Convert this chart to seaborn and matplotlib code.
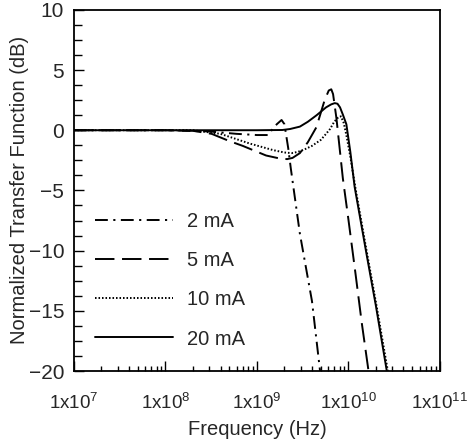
import numpy as np
import pandas as pd
import seaborn as sns
import matplotlib.pyplot as plt
from matplotlib.ticker import MultipleLocator, LogLocator, FixedLocator, NullFormatter

sns.set_style("ticks")
plt.rcParams["font.family"] = ["Liberation Sans", "DejaVu Sans"]
plt.rcParams["mathtext.default"] = "regular"
plt.rcParams["axes.unicode_minus"] = True

# =========================
# DATA
# =========================

freq_2ma = [1e7, 1e8, 3e8, 6e8, 1.0e9, 1.32e9, 1.45e9, 1.65e9, 1.86e9, 2.0e9, 2.2e9,
            2.35e9, 2.95e9, 4.0e9, 4.9e9]
db_2ma = [0, 0, -0.1, -0.3, -0.4, -0.4, 0.0, 0.5, 0.85, 0.5, -1.5,
          -3.2, -8.6, -14.2, -20]

freq_5ma = [1e7, 1e8, 2e8, 3.2e8, 5e8, 7e8, 1.26e9, 1.78e9, 2.14e9, 2.45e9, 2.95e9,
            3.6e9, 4.47e9, 5.5e9, 6.1e9, 6.5e9, 6.8e9, 7.4e9, 8.7e9, 1.0e10, 1.2e10,
            1.4e10, 1.66e10]
db_5ma = [0, 0, -0.05, -0.3, -0.9, -1.3, -2.1, -2.35, -2.4, -2.3, -1.9,
          -1.0, 0.25, 2.5, 3.3, 3.4, 3.0, 1.0, -4.0, -7.4, -12.0,
          -16.0, -20]

freq_10ma = [1e7, 1e8, 2e8, 4e8, 8.3e8, 1.5e9, 2.0e9, 2.4e9, 2.8e9, 3.3e9, 4.0e9,
             5.0e9, 5.7e9, 6.3e9, 7.0e9, 7.8e9, 8.3e9, 8.9e9, 9.5e9, 1.05e10, 1.2e10,
             1.58e10, 2.0e10, 2.7e10]
db_10ma = [0, 0, 0, -0.3, -1.1, -1.65, -1.85, -1.9, -1.8, -1.6, -1.3,
           -0.8, -0.3, 0.1, 0.7, 1.1, 1.15, 0.6, -0.4, -2.2, -4.9,
           -10.0, -14.3, -20]

freq_20ma = [1e7, 1e9, 1.9e9, 2.3e9, 2.95e9, 3.6e9, 4.5e9, 5.7e9, 6.5e9, 7.1e9, 7.6e9,
             8.1e9, 8.7e9, 9.5e9, 1.05e10, 1.17e10, 1.58e10, 2.0e10, 2.63e10]
db_20ma = [0, 0, 0.02, 0.1, 0.3, 0.7, 1.25, 1.9, 2.15, 2.25, 2.2,
           1.9, 1.3, 0.5, -1.8, -4.7, -10.3, -14.6, -20]

labels = ["2 mA", "5 mA", "10 mA", "20 mA"]
x_ticks = [1e7, 1e8, 1e9, 1e10, 1e11]
x_tick_labels = ["1x10$^{7}$", "1x10$^{8}$", "1x10$^{9}$", "1x10$^{10}$", "1x10$^{11}$"]
y_ticks = [-20, -15, -10, -5, 0, 5, 10]

df = pd.concat([
    pd.DataFrame({"freq": freq_2ma, "db": db_2ma, "current": labels[0]}),
    pd.DataFrame({"freq": freq_5ma, "db": db_5ma, "current": labels[1]}),
    pd.DataFrame({"freq": freq_10ma, "db": db_10ma, "current": labels[2]}),
    pd.DataFrame({"freq": freq_20ma, "db": db_20ma, "current": labels[3]}),
], ignore_index=True)

dash_styles = {
    "2 mA": (6.6, 2.8, 1.1, 2.8),
    "5 mA": (10, 3.9),
    "10 mA": (0.8, 1.0),
    "20 mA": "",
}

# =========================
# PLOT
# =========================

fig = plt.figure(figsize=(4.74, 4.47), dpi=100)
ax = fig.add_axes([0.156, 0.170, 0.772, 0.808])

sns.lineplot(
    data=df, x="freq", y="db", style="current", style_order=labels,
    dashes=dash_styles, color="black", linewidth=1.4,
    sort=False, estimator=None, ax=ax,
)

ax.set_xscale("log")
ax.set_xlim(1e7, 1e11)
ax.set_ylim(-20, 10)

ax.xaxis.set_major_locator(FixedLocator(x_ticks))
ax.set_xticklabels(x_tick_labels)
ax.xaxis.set_minor_locator(LogLocator(base=10, subs=np.arange(2, 10), numticks=20))
ax.xaxis.set_minor_formatter(NullFormatter())
ax.set_yticks(y_ticks)
ax.yaxis.set_minor_locator(MultipleLocator(1.25))

ax.tick_params(axis="both", which="both", direction="in", color="black", width=1.0)
ax.tick_params(axis="both", which="major", length=7)
ax.tick_params(axis="x", which="major", labelsize=13.5, pad=16)
ax.tick_params(axis="y", which="major", labelsize=15, pad=7)
ax.tick_params(axis="x", which="minor", length=3.6)
ax.tick_params(axis="y", which="minor", length=5.5)

for spine in ax.spines.values():
    spine.set_visible(True)
    spine.set_linewidth(1.3)
    spine.set_color("black")

ax.set_xlabel("Frequency (Hz)", fontsize=14.5, labelpad=5)
ax.set_ylabel("Normalized Transfer Function (dB)", fontsize=14.5, labelpad=0)

handles, _ = ax.get_legend_handles_labels()
ax.legend(
    handles[-4:], labels, loc="upper left", bbox_to_anchor=(0.057, 0.44),
    frameon=False, fontsize=14.5, handlelength=3.9, handletextpad=0.7,
    labelspacing=1.0, borderpad=0, borderaxespad=0,
)

fig.savefig("out.png", dpi=100)
